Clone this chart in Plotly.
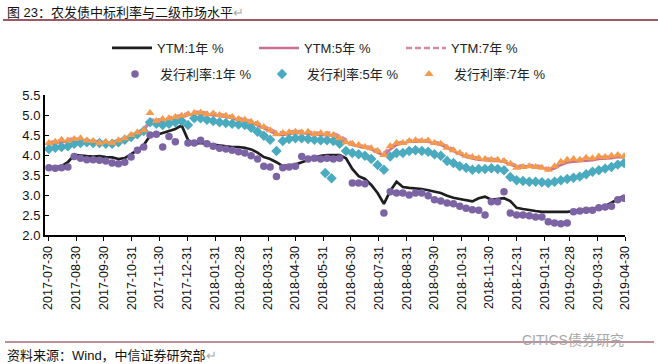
import plotly.graph_objects as go
import pandas as pd

# ---------------- data (weekly observations) ----------------
DATES = pd.date_range("2017-07-31", periods=92, freq="7D")

YTM_1Y = [3.70, 3.70, 3.72, 3.82, 4.00, 3.98, 3.97, 3.96, 3.97, 3.95,
          3.94, 3.90, 3.92, 4.02, 4.12, 4.25, 4.48, 4.50, 4.55, 4.60,
          4.65, 4.74, 4.38, 4.28, 4.30, 4.28, 4.26, 4.24, 4.22, 4.20,
          4.20, 4.18, 4.14, 4.06, 3.95, 3.90, 3.82, 3.72, 3.74, 3.76,
          3.82, 3.88, 3.92, 3.98, 4.00, 4.00, 4.00, 3.92, 3.65, 3.47,
          3.40, 3.25, 3.05, 2.78, 3.10, 3.33, 3.20, 3.18, 3.17, 3.15,
          3.12, 3.08, 3.05, 2.98, 2.93, 2.90, 2.87, 2.84, 2.92, 2.96,
          2.88, 2.90, 2.92, 2.85, 2.68, 2.65, 2.62, 2.60, 2.58, 2.58,
          2.57, 2.57, 2.58, 2.60, 2.62, 2.64, 2.66, 2.68, 2.72, 2.80,
          2.90, 2.98]

YTM_5Y = [4.26, 4.29, 4.32, 4.35, 4.37, 4.35, 4.33, 4.31, 4.28, 4.27,
          4.28, 4.33, 4.37, 4.47, 4.52, 4.60, 4.84, 4.83, 4.85, 4.88,
          4.92, 4.95, 5.00, 5.03, 5.04, 5.02, 5.00, 4.98, 4.95, 4.92,
          4.88, 4.85, 4.80, 4.74, 4.66, 4.60, 4.52, 4.50, 4.53, 4.55,
          4.55, 4.53, 4.51, 4.50, 4.50, 4.49, 4.42, 4.32, 4.25, 4.21,
          4.17, 4.14, 4.06, 3.98, 4.14, 4.25, 4.29, 4.33, 4.34, 4.34,
          4.33, 4.29, 4.25, 4.17, 4.09, 4.01, 3.95, 3.91, 3.88, 3.87,
          3.85, 3.85, 3.83, 3.76, 3.70, 3.71, 3.72, 3.71, 3.69, 3.62,
          3.66, 3.75, 3.81, 3.83, 3.84, 3.86, 3.87, 3.90, 3.91, 3.92,
          3.95, 3.94]

YTM_7Y = [4.32, 4.35, 4.37, 4.40, 4.42, 4.40, 4.38, 4.36, 4.33, 4.32,
          4.33, 4.38, 4.42, 4.52, 4.57, 4.65, 4.88, 4.88, 4.90, 4.93,
          4.97, 5.00, 5.05, 5.08, 5.08, 5.06, 5.05, 5.03, 5.00, 4.97,
          4.93, 4.90, 4.85, 4.80, 4.72, 4.66, 4.58, 4.56, 4.58, 4.60,
          4.60, 4.58, 4.56, 4.55, 4.56, 4.55, 4.48, 4.38, 4.30, 4.26,
          4.22, 4.20, 4.12, 4.05, 4.20, 4.30, 4.33, 4.37, 4.38, 4.38,
          4.37, 4.33, 4.30, 4.22, 4.14, 4.06, 4.00, 3.96, 3.93, 3.92,
          3.90, 3.90, 3.88, 3.80, 3.74, 3.74, 3.75, 3.74, 3.72, 3.66,
          3.70, 3.80, 3.86, 3.88, 3.89, 3.91, 3.92, 3.95, 3.96, 3.97,
          4.00, 3.98]

ISSUE_1Y = [3.68, 3.67, 3.68, 3.70, 3.96, 3.92, 3.88, 3.88, 3.87, 3.85,
            3.80, 3.78, 3.82, 3.95, 4.12, 4.20, 4.50, 4.52, 4.20, 4.46,
            4.33, None, 4.30, 4.30, 4.37, 4.28, 4.22, 4.17, 4.15, 4.12,
            4.08, 4.05, 3.98, 3.90, 3.72, 3.70, 3.46, 3.68, 3.70, 3.72,
            3.96, 3.90, 3.92, 3.90, 3.92, 3.90, 3.92, None, 3.30, 3.30,
            3.28, None, None, 2.55, 3.08, 3.05, 3.05, 3.00, 3.05, 3.05,
            2.98, 2.88, 2.85, 2.80, 2.78, 2.72, 2.67, 2.63, 2.62, 2.50,
            2.83, 2.83, 3.08, 2.55, 2.50, 2.50, 2.48, 2.45, 2.45, 2.33,
            2.30, 2.28, 2.30, 2.58, 2.60, 2.62, 2.62, 2.68, 2.70, 2.72,
            2.88, 2.92]

ISSUE_5Y = [4.15, 4.18, 4.20, 4.22, 4.28, 4.30, 4.32, 4.30, 4.30, 4.28,
            4.28, 4.32, 4.38, 4.45, 4.52, 4.60, 4.82, 4.78, 4.75, 4.78,
            4.82, 4.85, 4.75, 4.92, 4.92, 4.88, 4.85, 4.82, 4.80, 4.78,
            4.76, 4.75, 4.68, 4.58, 4.48, 4.38, 4.10, 4.35, 4.40, 4.42,
            4.42, 4.40, 4.38, 4.37, 4.37, 4.35, 4.28, 4.10, 4.05, 4.02,
            3.98, 3.90, 3.75, 3.63, 3.96, 4.05, 4.05, 4.10, 4.12, 4.10,
            4.08, 4.02, 3.98, 3.85, 3.80, 3.72, 3.68, 3.63, 3.65, 3.65,
            3.67, 3.65, 3.62, 3.45, 3.37, 3.35, 3.33, 3.33, 3.32, 3.30,
            3.33, 3.37, 3.40, 3.43, 3.46, 3.52, 3.58, 3.62, 3.66, 3.70,
            3.76, 3.80]
ISSUE_5Y_EXTRA_DATES = ["2018-06-02", "2018-06-09"]
ISSUE_5Y_EXTRA = [3.55, 3.42]

ISSUE_7Y = [4.30, 4.33, 4.38, 4.36, 4.40, 4.42, 4.36, 4.35, 4.30, 4.33,
            4.30, 4.36, 4.42, 4.50, 4.56, 4.62, 5.05, 4.85, 4.90, 4.92,
            4.95, 4.98, 5.02, 5.05, 5.06, 5.02, 5.04, 5.00, 4.98, 4.95,
            4.90, 4.88, 4.83, 4.78, 4.70, 4.62, 4.52, 4.55, 4.57, 4.58,
            4.56, 4.58, 4.52, 4.55, 4.52, 4.50, 4.42, 4.32, 4.28, 4.25,
            4.20, 4.17, 4.10, 4.00, 4.22, 4.30, 4.30, 4.35, 4.37, 4.35,
            4.36, 4.30, 4.28, 4.18, 4.12, 4.05, 3.98, 3.95, 3.92, 3.90,
            3.88, 3.88, 3.85, 3.78, 3.68, 3.70, 3.72, 3.70, 3.68, 3.63,
            3.72, 3.83, 3.88, 3.90, 3.88, 3.93, 3.92, 3.96, 3.95, 3.98,
            4.00, 3.97]

TICK_LABELS = ["2017-07-30", "2017-08-30", "2017-09-30", "2017-10-31",
               "2017-11-30", "2017-12-31", "2018-01-31", "2018-02-28",
               "2018-03-31", "2018-04-30", "2018-05-31", "2018-06-30",
               "2018-07-31", "2018-08-31", "2018-09-30", "2018-10-31",
               "2018-11-30", "2018-12-31", "2019-01-31", "2019-02-28",
               "2019-03-31", "2019-04-30"]

# ---------------- layout helpers ----------------
W, H = 658, 364
L, R, T, B = 45, 33, 95, 129
PW, PH = W - L - R, H - T - B


def xp(px):
    return (px - L) / PW


def yp(py):
    return (H - B - py) / PH


FONT = "Liberation Sans, Arial, Noto Sans CJK SC, sans-serif"
MAROON = "#7B2330"

fig = go.Figure()
fig.add_trace(go.Scatter(x=DATES, y=YTM_1Y, mode="lines", name="YTM:1年 %",
                         line=dict(color="#1e1e1e", width=2.7), legend="legend"))
fig.add_trace(go.Scatter(x=DATES, y=YTM_5Y, mode="lines", name="YTM:5年 %",
                         line=dict(color="#C8718A", width=2.5), legend="legend"))
fig.add_trace(go.Scatter(x=DATES, y=YTM_7Y, mode="lines", name="YTM:7年 %",
                         line=dict(color="#D38A9C", width=2.5, dash="6px,3px"),
                         legend="legend"))
fig.add_trace(go.Scatter(x=DATES, y=ISSUE_1Y, mode="markers", name="发行利率:1年 %",
                         marker=dict(color="#7C63A4", size=7.5, symbol="circle"),
                         legend="legend2"))
fig.add_trace(go.Scatter(x=list(DATES) + [pd.Timestamp(d) for d in ISSUE_5Y_EXTRA_DATES],
                         y=ISSUE_5Y + ISSUE_5Y_EXTRA, mode="markers", name="发行利率:5年 %",
                         marker=dict(color="#4AAAC0", size=8, symbol="diamond"),
                         legend="legend2"))
fig.add_trace(go.Scatter(x=DATES, y=ISSUE_7Y, mode="markers", name="发行利率:7年 %",
                         marker=dict(color="#F59A4C", size=8, symbol="triangle-up"),
                         legend="legend2"))

legend_common = dict(orientation="h", xanchor="left", yanchor="middle",
                     entrywidth=92, entrywidthmode="pixels",
                     font=dict(size=13, family=FONT, color="#222222"),
                     bgcolor="rgba(0,0,0,0)", borderwidth=0, itemwidth=40)

fig.update_layout(
    width=W, height=H,
    margin=dict(l=L, r=R, t=T, b=B, autoexpand=False),
    paper_bgcolor="white", plot_bgcolor="white",
    font=dict(family=FONT, size=13, color="#111111"),
    legend=dict(x=xp(107), y=yp(48), **legend_common),
    legend2=dict(x=xp(110), y=yp(74), **legend_common),
    xaxis=dict(type="date", range=["2017-07-26 16:00", "2019-04-30 00:00"],
               tickvals=TICK_LABELS, ticktext=TICK_LABELS, tickangle=-90,
               ticks="outside", ticklen=4, tickcolor="black", tickwidth=1,
               showline=True, linecolor="black", linewidth=2,
               showgrid=False, zeroline=False, automargin=False,
               tickfont=dict(size=12.5, family=FONT, color="#111111")),
    yaxis=dict(range=[2.0, 5.5], dtick=0.5, tick0=2.0, tickformat=".1f",
               ticks="inside", ticklen=4, tickcolor="black",
               showline=True, linecolor="black", linewidth=2,
               showgrid=False, zeroline=False, automargin=False,
               tickfont=dict(size=13, family=FONT, color="#111111")),
    showlegend=True,
)

fig.add_shape(type="line", xref="paper", yref="paper",
              x0=xp(3), x1=xp(658), y0=yp(20), y1=yp(20),
              line=dict(color=MAROON, width=1.5))
fig.add_shape(type="line", xref="paper", yref="paper",
              x0=xp(5), x1=xp(654), y0=yp(342), y1=yp(342),
              line=dict(color=MAROON, width=1.2))

fig.add_annotation(xref="paper", yref="paper", x=xp(5), y=yp(12),
                   xanchor="left", yanchor="middle", showarrow=False,
                   text="图 23：农发债中标利率与二级市场水平<span style='color:#aaaaaa'>↵</span>",
                   font=dict(size=13, family=FONT, color="#111111"))
fig.add_annotation(xref="paper", yref="paper", x=xp(5), y=yp(355),
                   xanchor="left", yanchor="middle", showarrow=False,
                   text="资料来源：Wind，中信证券研究部<span style='color:#aaaaaa'>↵</span>",
                   font=dict(size=13, family=FONT, color="#111111"))
fig.add_annotation(xref="paper", yref="paper", x=xp(520), y=yp(340),
                   xanchor="left", yanchor="middle", showarrow=False,
                   text="CITICS债券研究",
                   font=dict(size=14, family=FONT, color="#a8a8a8"))

fig.write_html("out.html", config={"displayModeBar": False},
               post_script="document.body.style.margin='0';")
